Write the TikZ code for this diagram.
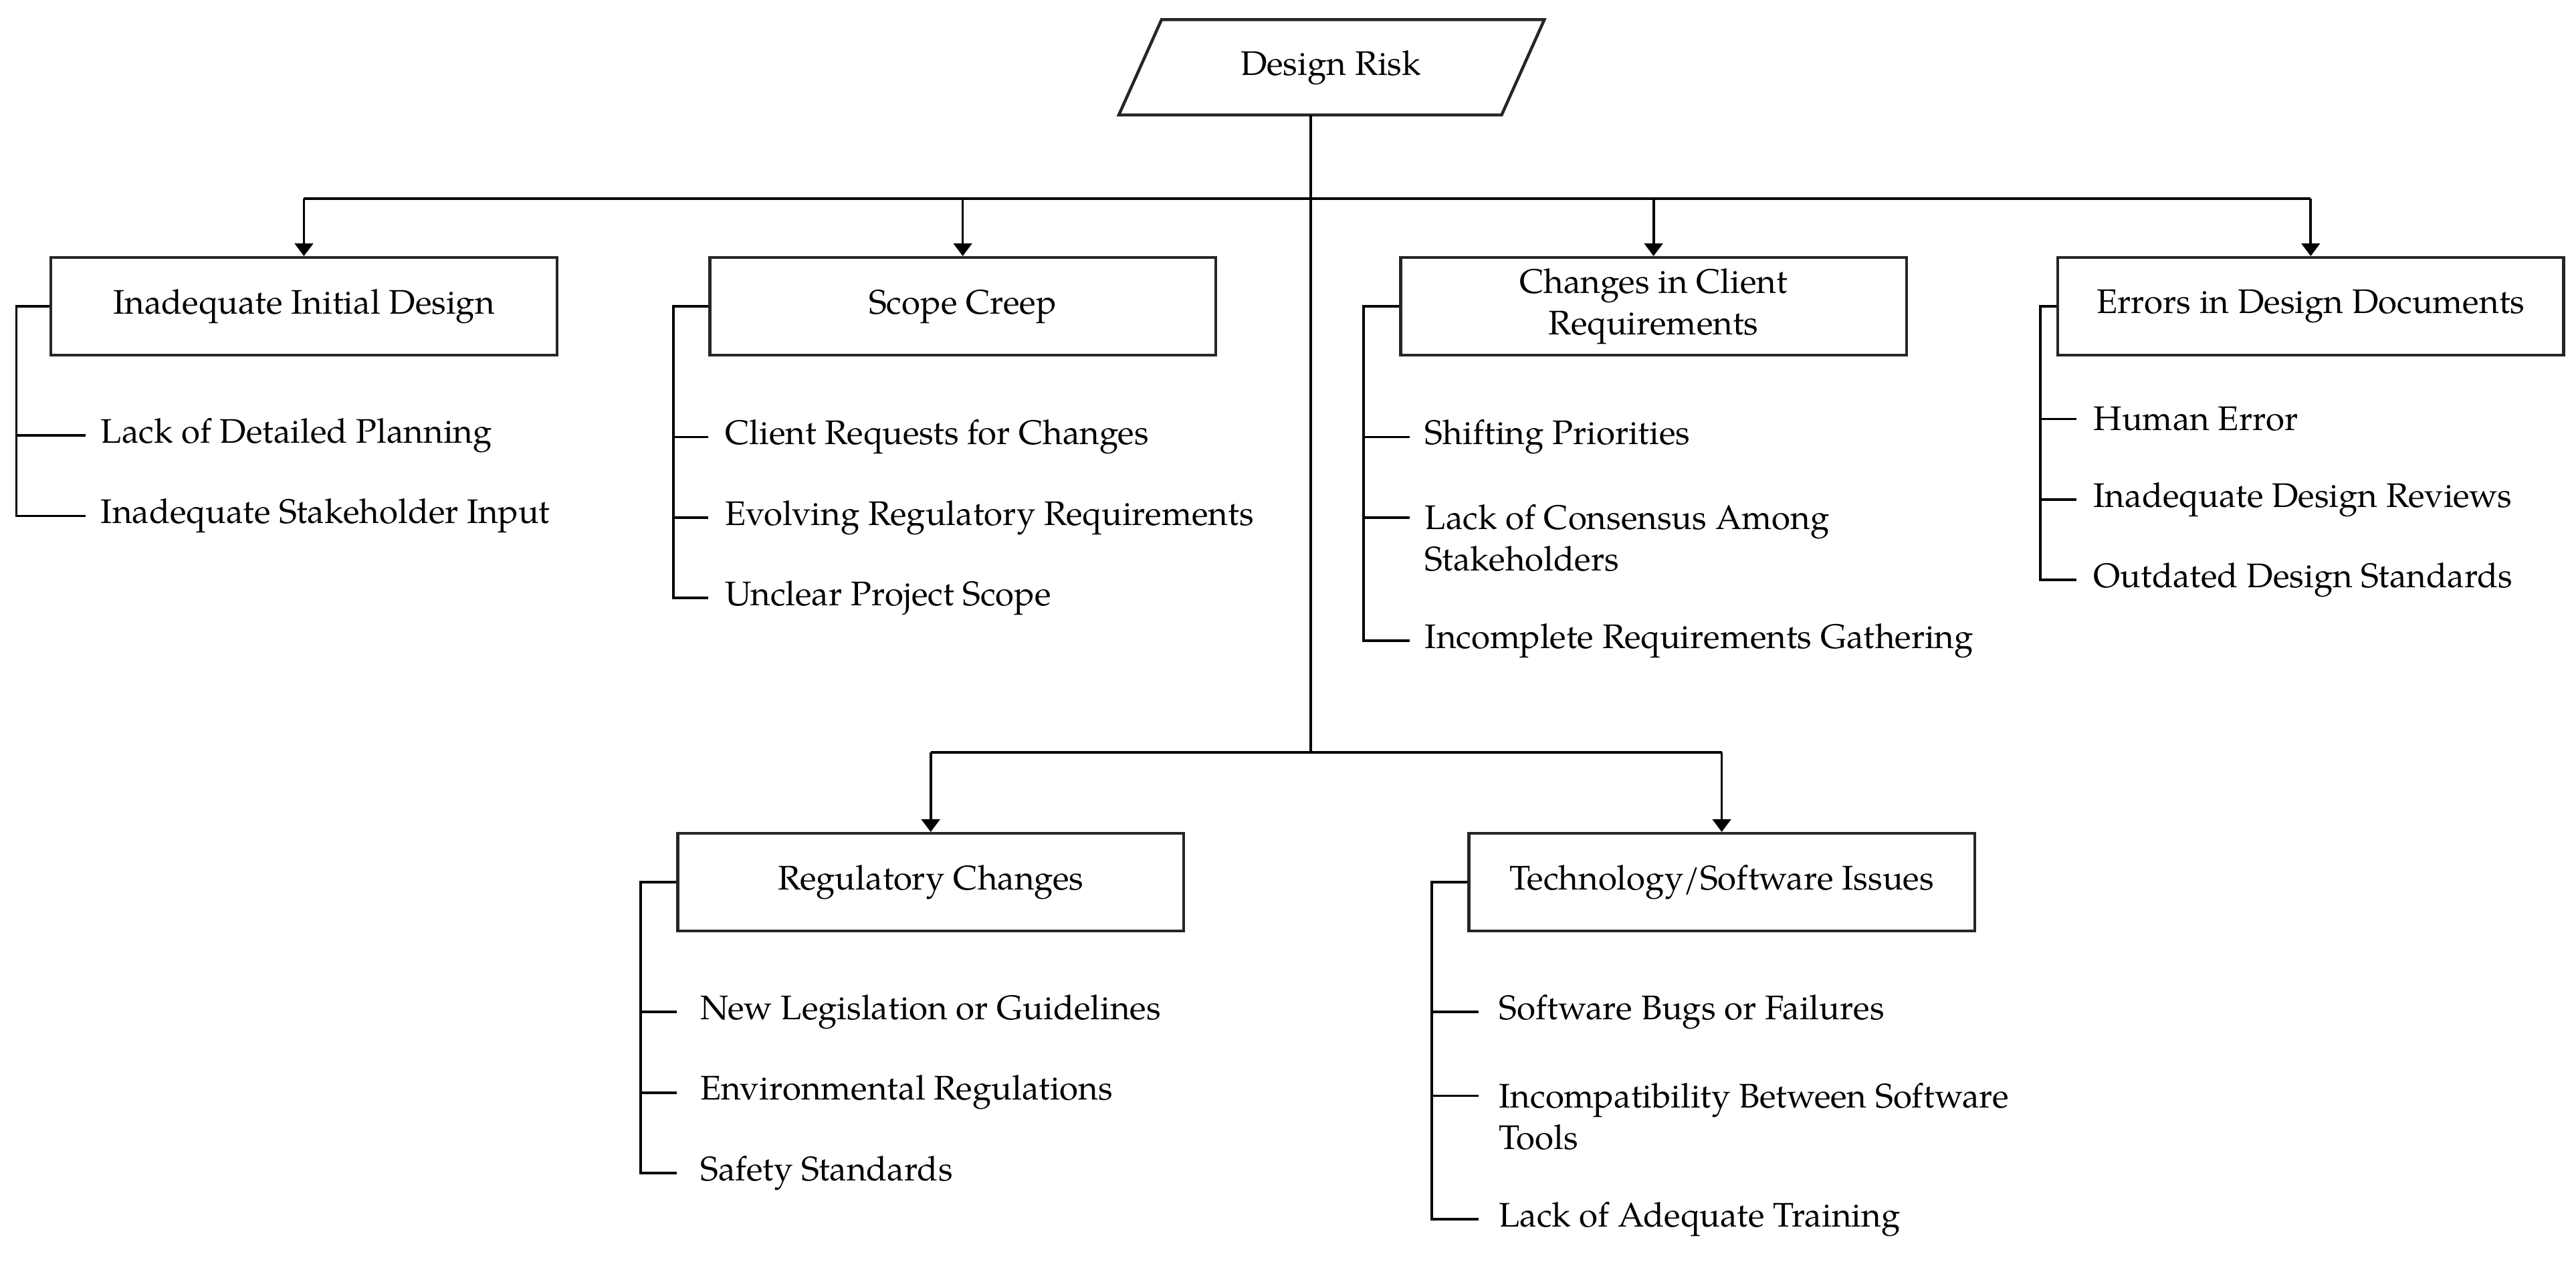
\documentclass[tikz,border=0pt]{standalone}
\usepackage{fontspec}
\setmainfont{texgyrepagella-regular.otf}
\usetikzlibrary{arrows.meta,calc}
\begin{document}
\begin{tikzpicture}[x=0.4913pt,y=-0.4913pt,
  font=\fontsize{10.2}{12.3}\selectfont,
  box/.style={draw=black!85,line width=0.9pt,minimum width=151.3pt,minimum height=29.2pt,inner sep=0pt,align=center},
  item/.style={anchor=west,inner sep=0pt,align=left},
  conn/.style={line width=0.75pt,black},
  arr/.style={conn,-{Triangle[length=3.8pt,width=5.5pt]}},
]
\useasboundingbox (0,0) rectangle (1568,769);
% root
\coordinate (rA) at (681,70);
\coordinate (rB) at (914,70);
\coordinate (rC) at (940,12);
\coordinate (rD) at (707,12);
\draw[line width=0.9pt,black!85] (rA) -- (rB) -- (rC) -- (rD) -- cycle;
\node (root) at (810,41) {Design Risk};
\coordinate (rootb) at (797.7,70);
\coordinate (tb) at (797.7,121);
\coordinate (bb) at (797.7,458);
% boxes
\node[box] (B1) at (185,186.5) {Inadequate Initial Design};
\node[box] (B2) at (586,186.5) {Scope Creep};
\node[box] (B3) at (1006.5,186.5) {Changes in Client\\Requirements};
\node[box] (B4) at (1406.5,186.5) {Errors in Design Documents};
\node[box] (B5) at (566.5,537) {Regulatory Changes};
\node[box] (B6) at (1048,537) {Technology/Software Issues};
% items
\node[item] (I11) at (61,265) {Lack of Detailed Planning};
\node[item] (I12) at (61,314) {Inadequate Stakeholder Input};
\node[item] (I21) at (441,266) {Client Requests for Changes};
\node[item] (I22) at (441,315) {Evolving Regulatory Requirements};
\node[item] (I23) at (441,364) {Unclear Project Scope};
\node[item] (I31) at (867,266) {Shifting Priorities};
\node[item] (I32) at (867,327.5) {Lack of Consensus Among\\Stakeholders};
\node[item] (I33) at (867,390) {Incomplete Requirements Gathering};
\node[item] (I41) at (1274,255) {Human Error};
\node[item] (I42) at (1274,304) {Inadequate Design Reviews};
\node[item] (I43) at (1274,353) {Outdated Design Standards};
\node[item] (I51) at (426,616) {New Legislation or Guidelines};
\node[item] (I52) at (426,665) {Environmental Regulations};
\node[item] (I53) at (426,714) {Safety Standards};
\node[item] (I61) at (912,616) {Software Bugs or Failures};
\node[item] (I62) at (912,679.5) {Incompatibility Between Software\\Tools};
\node[item] (I63) at (912,742) {Lack of Adequate Training};
\coordinate (T32) at ([yshift=6.15pt]I32.west);
\coordinate (T62) at ([yshift=6.15pt]I62.west);
% trunk and bars
\draw[conn] (rootb) -- (bb);
\draw[conn] (tb -| B1.north) -- (tb -| B4.north);
\foreach \b in {B1,B2,B3,B4} \draw[arr] (tb -| \b.north) -- (\b.north);
\draw[conn] (bb -| B5.north) -- (bb -| B6.north);
\foreach \b in {B5,B6} \draw[arr] (bb -| \b.north) -- (\b.north);
% brackets
\coordinate (K1) at (10,0);
\coordinate (K2) at (410,0);
\coordinate (K3) at (830,0);
\coordinate (K4) at (1242,0);
\coordinate (K5) at (390,0);
\coordinate (K6) at (871.5,0);
\draw[conn] (B1.west) -- (B1.west -| K1) -- (K1 |- I12.west) -- ([xshift=-4.4pt]I12.west);
\draw[conn] (K1 |- I11.west) -- ([xshift=-4.4pt]I11.west);
\draw[conn] (B2.west) -- (B2.west -| K2) -- (K2 |- I23.west) -- ([xshift=-4.9pt]I23.west);
\foreach \i in {I21,I22} \draw[conn] (K2 |- \i.west) -- ([xshift=-4.9pt]\i.west);
\draw[conn] (B3.west) -- (B3.west -| K3) -- (K3 |- I33.west) -- ([xshift=-4.4pt]I33.west);
\draw[conn] (K3 |- I31.west) -- ([xshift=-4.4pt]I31.west);
\draw[conn] (K3 |- T32) -- ([xshift=-4.4pt]T32);
\draw[conn] (B4.west) -- (B4.west -| K4) -- (K4 |- I43.west) -- ([xshift=-4.9pt]I43.west);
\foreach \i in {I41,I42} \draw[conn] (K4 |- \i.west) -- ([xshift=-4.9pt]\i.west);
\draw[conn] (B5.west) -- (B5.west -| K5) -- (K5 |- I53.west) -- ([xshift=-6.9pt]I53.west);
\foreach \i in {I51,I52} \draw[conn] (K5 |- \i.west) -- ([xshift=-6.9pt]\i.west);
\draw[conn] (B6.west) -- (B6.west -| K6) -- (K6 |- I63.west) -- ([xshift=-5.9pt]I63.west);
\draw[conn] (K6 |- I61.west) -- ([xshift=-5.9pt]I61.west);
\draw[conn] (K6 |- T62) -- ([xshift=-5.9pt]T62);
\end{tikzpicture}
\end{document}
